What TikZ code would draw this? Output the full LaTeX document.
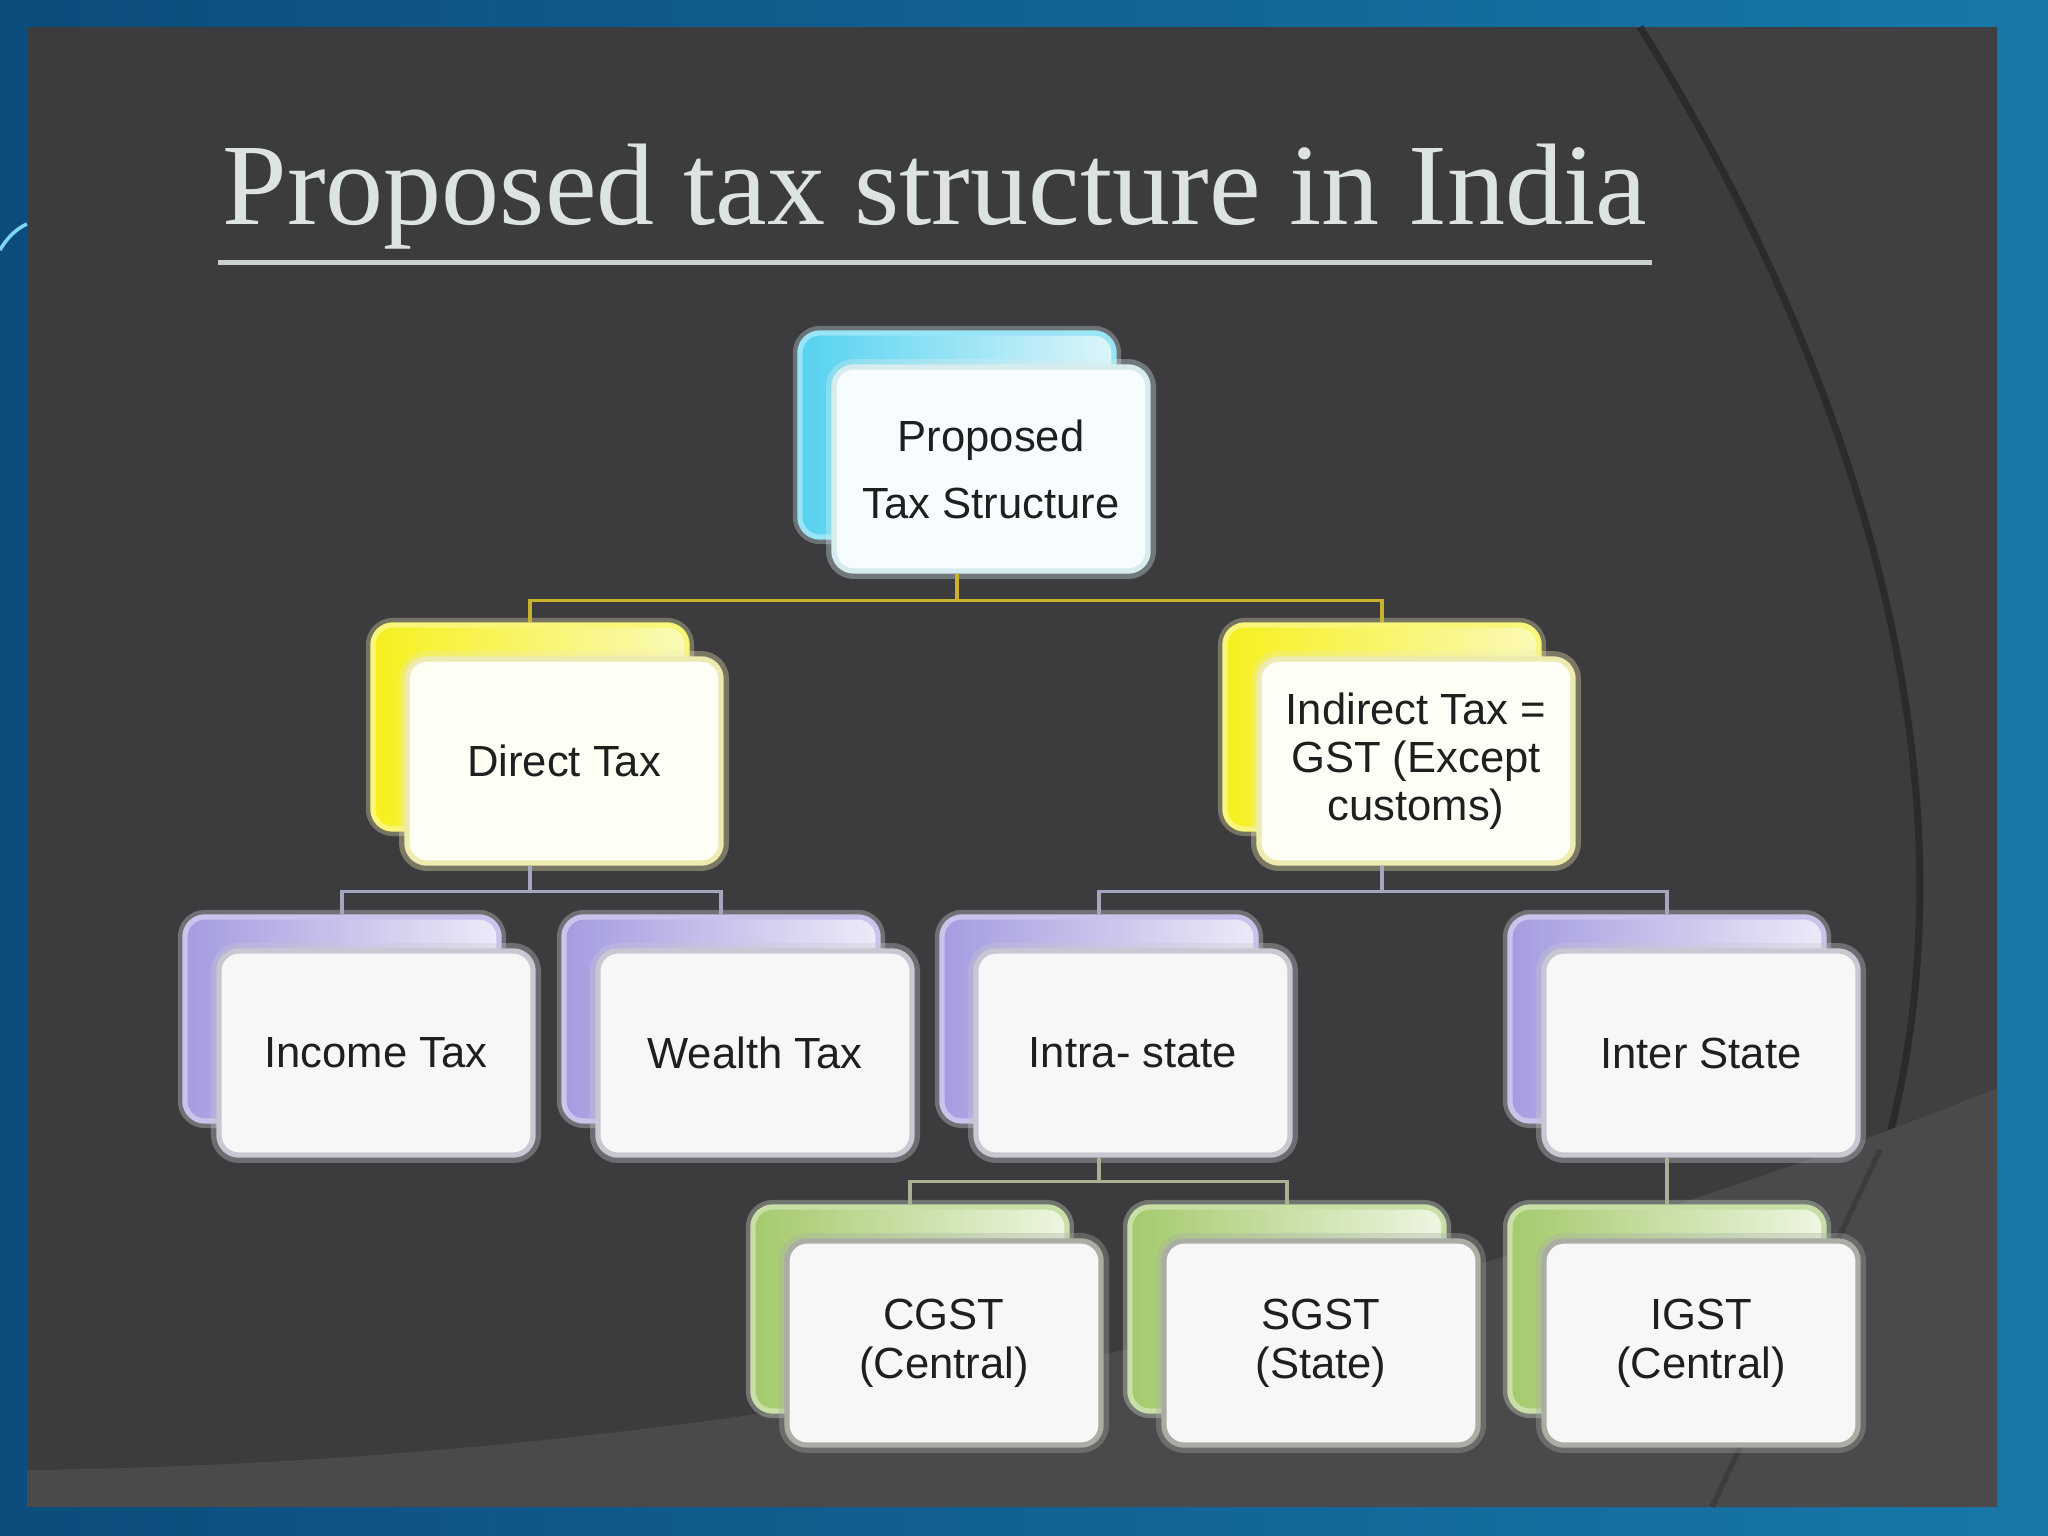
\documentclass[tikz,border=0pt]{standalone}
\usepackage{fontspec}
\setmainfont{Liberation Serif}
\newfontfamily\cardfont{Liberation Sans}
\usetikzlibrary{calc}

\definecolor{framebluea}{HTML}{0B4C7C}
\definecolor{frameblueb}{HTML}{1878AA}
\definecolor{panelgrey}{HTML}{3C3B3D}
\definecolor{panelmid}{HTML}{403F42}
\definecolor{panellight}{HTML}{4A494C}
\definecolor{arcdark}{HTML}{2B2A2C}
\definecolor{titlegrey}{HTML}{DDE2E2}
\definecolor{rootstrong}{HTML}{55D2F0}
\definecolor{rootsoft}{HTML}{DDF6FA}
\definecolor{yelstrong}{HTML}{F6F01E}
\definecolor{yelsoft}{HTML}{FBFAB8}
\definecolor{lavstrong}{HTML}{A49CE0}
\definecolor{lavsoft}{HTML}{ECEBF8}
\definecolor{grnstrong}{HTML}{A4CA6C}
\definecolor{grnsoft}{HTML}{EEF6E2}
\definecolor{rootedge}{HTML}{D6ECEF}
\definecolor{yeledge}{HTML}{EEEBB0}
\definecolor{lavedge}{HTML}{C8C8D2}
\definecolor{grnedge}{HTML}{A9ADA3}
\definecolor{linkyel}{HTML}{C9B22E}
\definecolor{linklav}{HTML}{A3A6BE}
\definecolor{linkgrn}{HTML}{A9B190}

\tikzset{
  card/.style={rounded corners=0.2cm, minimum width=3.14cm, minimum height=2.04cm,
    inner sep=0pt, line width=1.5pt, align=center},
  backcard/.style 2 args={card, draw=#1!60!white, left color=#1, right color=#2,
    preaction={draw=#2, line width=4pt, opacity=.3}},
  frontcard/.style 2 args={card, draw=#1, fill=#2,
    preaction={draw=#1, line width=4.5pt, opacity=.35},
    font=\cardfont\fontsize{12.4}{14}\selectfont, text=black!88},
  link/.style={line width=0.9pt, draw=#1},
}

\begin{document}
\begin{tikzpicture}[x=0.01cm,y=-0.01cm]
\useasboundingbox (0,0) rectangle (2048,1536);

% frame and panel
\shade[left color=framebluea, right color=frameblueb] (0,0) rectangle (2048,1536);
\fill[panelgrey] (27,27) rectangle (1997,1507);
\fill[panelmid] (1640,27) .. controls (1860,380) and (1990,800) .. (1880,1170) -- (1997,1170) -- (1997,27) -- cycle;
\draw[arcdark, line width=2pt] (1640,27) .. controls (1860,380) and (1990,800) .. (1880,1170);
\fill[panellight] (27,1470) .. controls (700,1462) and (1400,1330) .. (1997,1088) -- (1997,1507) -- (27,1507) -- cycle;
\draw[panelgrey, line width=1.5pt] (1880,1150) -- (1712,1507);
\draw[cyan!50!white, line width=1pt] (0,250) .. controls (8,236) and (18,228) .. (27,224);

% title
\node[anchor=base west, inner sep=0pt, text=titlegrey, font=\fontsize{33}{40}\selectfont] (title) at (222,224) {Proposed tax structure in India};
\draw[titlegrey!92!black, line width=0.05cm] (218,262) -- (1652,262);

% root
\node[backcard={rootstrong}{rootsoft}] (rootb) at (957,435) {};
\node[frontcard={rootedge}{white!97!cyan}, font=\cardfont\fontsize{12.4}{19}\selectfont] (root) at (991,469) {Proposed\\Tax Structure};

% first level
\node[backcard={yelstrong}{yelsoft}] (directb) at (530,727) {};
\node[frontcard={yeledge}{white!96!yellow}] (direct) at (564,761) {Direct Tax};
\node[backcard={yelstrong}{yelsoft}] (indirectb) at (1382,727) {};
\node[frontcard={yeledge}{white!97!yellow}, font=\cardfont\fontsize{12.4}{13.7}\selectfont] (indirect) at (1416,761) {Indirect Tax =\\GST (Except\\customs)};

% second level
\node[backcard={lavstrong}{lavsoft}] (incomeb) at (342,1019) {};
\node[frontcard={lavedge}{white!97!black}] (income) at (376,1053) {Income Tax};
\node[backcard={lavstrong}{lavsoft}] (wealthb) at (721,1019) {};
\node[frontcard={lavedge}{white!97!black}] (wealth) at (755,1053) {Wealth Tax};
\node[backcard={lavstrong}{lavsoft}] (intrab) at (1099,1019) {};
\node[frontcard={lavedge}{white!97!black}] (intra) at (1133,1053) {Intra- state};
\node[backcard={lavstrong}{lavsoft}] (interb) at (1667,1019) {};
\node[frontcard={lavedge}{white!97!black}] (inter) at (1701,1053) {Inter State};

% third level
\node[backcard={grnstrong}{grnsoft}] (cgstb) at (910,1309) {};
\node[frontcard={grnedge}{white!97!black}] (cgst) at (944,1343) {CGST\\(Central)};
\node[backcard={grnstrong}{grnsoft}] (sgstb) at (1287,1309) {};
\node[frontcard={grnedge}{white!97!black}] (sgst) at (1321,1343) {SGST\\(State)};
\node[backcard={grnstrong}{grnsoft}] (igstb) at (1667,1309) {};
\node[frontcard={grnedge}{white!97!black}] (igst) at (1701,1343) {IGST\\(Central)};

% links
\draw[link=linkyel] (root.south -| rootb.north) -- ++(0,27) -| (directb.north);
\draw[link=linkyel] (root.south -| rootb.north) -- ++(0,27) -| (indirectb.north);
\draw[link=linklav] (direct.south -| directb.north) -- ++(0,26) -| (incomeb.north);
\draw[link=linklav] (direct.south -| directb.north) -- ++(0,26) -| (wealthb.north);
\draw[link=linklav] (indirect.south -| indirectb.north) -- ++(0,26) -| (intrab.north);
\draw[link=linklav] (indirect.south -| indirectb.north) -- ++(0,26) -| (interb.north);
\draw[link=linkgrn] (intra.south -| intrab.north) -- ++(0,24) -| (cgstb.north);
\draw[link=linkgrn] (intra.south -| intrab.north) -- ++(0,24) -| (sgstb.north);
\draw[link=linkgrn] (inter.south -| interb.north) -- (igstb.north);

\end{tikzpicture}
\end{document}
